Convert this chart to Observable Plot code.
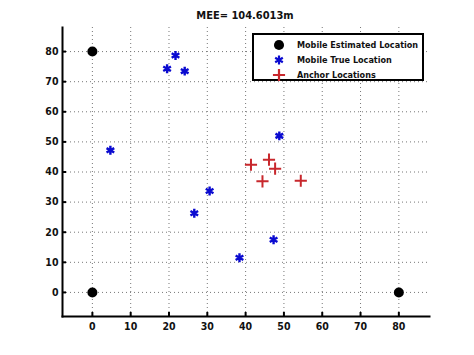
<!DOCTYPE html>
<html>
<head>
<meta charset="utf-8">
<script src="https://cdn.jsdelivr.net/npm/d3@7"></script>
<script src="https://cdn.jsdelivr.net/npm/@observablehq/plot@0.6"></script>
<style>
  html, body { margin: 0; padding: 0; background: #fff; }
  #wrap { position: relative; width: 474px; height: 355px; }
  #title { height: 22px; width: 474px; text-align: center; font: bold 11px "DejaVu Sans Condensed", "DejaVu Sans", sans-serif; line-height: 31px; color: #111; padding-left: 16px; box-sizing: border-box; }
  #legend { position: absolute; left: 252px; top: 33px; width: 168px; height: 44px; border: 2px solid #000; background: #fff; font: bold 9px "DejaVu Sans Condensed", "DejaVu Sans", sans-serif; color: #111; }
  .row { position: absolute; left: 0; height: 14px; line-height: 14px; }
  .row svg { position: absolute; left: 18px; top: 0; }
  .row span { position: absolute; left: 43px; white-space: nowrap; }
</style>
</head>
<body>
<div id="wrap">
  <div id="title">MEE= 104.6013m</div>
  <div id="chart"></div>
  <div id="legend"></div>
</div>
<script>
const title = "MEE= 104.6013m";
const estX = [0, 0, 80];
const estY = [80, 0, 0];
const trueX = [19.5, 21.7, 24.1, 4.7, 48.8, 30.6, 26.6, 47.3, 38.4];
const trueY = [74.3, 78.7, 73.5, 47.2, 52.0, 33.7, 26.3, 17.5, 11.5];
const anchorX = [41.4, 46.1, 47.7, 44.4, 54.4];
const anchorY = [42.4, 44.1, 41.1, 36.9, 37.1];
const xTicks = [0, 10, 20, 30, 40, 50, 60, 70, 80];
const yTicks = [0, 10, 20, 30, 40, 50, 60, 70, 80];
const legendLabels = ["Mobile Estimated Location", "Mobile True Location", "Anchor Locations"];

const est = estX.map((x, i) => ({x, y: estY[i]}));
const tru = trueX.map((x, i) => ({x, y: trueY[i]}));
const anc = anchorX.map((x, i) => ({x, y: anchorY[i]}));

const blue = "#0a0ad0";
const red = "#c8282d";

const chart = Plot.plot({
  width: 474,
  height: 333,
  marginTop: 5,
  marginLeft: 62,
  marginRight: 45,
  marginBottom: 39,
  x: {domain: [-7.8, 88], ticks: xTicks},
  y: {domain: [-8, 88], ticks: yTicks},
  style: {fontFamily: "'DejaVu Sans Condensed', 'DejaVu Sans', sans-serif", fontSize: "10.5px", fontWeight: "bold", color: "#111"},
  marks: [
    Plot.gridX(xTicks, {stroke: "#777", strokeOpacity: 1, strokeWidth: 1, strokeDasharray: "1,3"}),
    Plot.gridY(yTicks, {stroke: "#777", strokeOpacity: 1, strokeWidth: 1, strokeDasharray: "1,3"}),
    Plot.axisX(xTicks, {tickSize: -4, tickPadding: 10, strokeWidth: 2, stroke: "#000", label: null}),
    Plot.axisY(yTicks, {tickSize: -4, tickPadding: 8, strokeWidth: 2, stroke: "#000", label: null}),
    Plot.frame({anchor: "left", stroke: "#000", strokeWidth: 2}),
    Plot.frame({anchor: "bottom", stroke: "#000", strokeWidth: 2}),
    Plot.dot(est, {x: "x", y: "y", r: 5, fill: "#000", symbol: "circle"}),
    Plot.dot(tru, {x: "x", y: "y", r: 4.2, stroke: blue, strokeWidth: 2.4, symbol: "asterisk"}),
    Plot.dot(anc, {x: "x", y: "y", r: 4, stroke: red, strokeWidth: 2, symbol: "plus"})
  ]
});
document.getElementById("chart").appendChild(chart);

// legend
const legend = document.getElementById("legend");
const specs = [
  {symbol: d3.symbolCircle, fill: "#000", stroke: "none", size: 80},
  {symbol: d3.symbolAsterisk, fill: "none", stroke: blue, size: 55},
  {symbol: d3.symbolPlus, fill: "none", stroke: red, size: 50}
];
legendLabels.forEach((lab, i) => {
  const row = document.createElement("div");
  row.className = "row";
  row.style.top = (3 + i * 15) + "px";
  const s = specs[i];
  const path = d3.symbol(s.symbol, s.size)();
  row.innerHTML = `<svg width="14" height="14" viewBox="-7 -7 14 14"><path d="${path}" fill="${s.fill}" stroke="${s.stroke}" stroke-width="2.2"/></svg><span>${lab}</span>`;
  legend.appendChild(row);
});
</script>
</body>
</html>
